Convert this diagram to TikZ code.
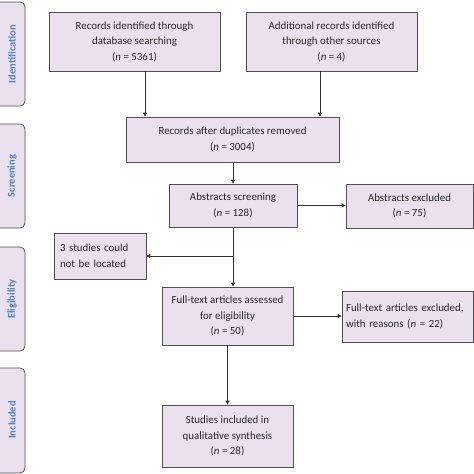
\documentclass[tikz,border=0pt]{standalone}
\usepackage{fontspec}
\setmainfont{Carlito}
\usetikzlibrary{arrows.meta}
\definecolor{boxfill}{HTML}{EBE1EE}
\definecolor{boxline}{HTML}{505050}
\definecolor{phasetext}{HTML}{4F81BD}
\begin{document}
\begin{tikzpicture}[x=1pt,y=-1pt,
    box/.style = {draw=boxline, fill=boxfill, line width=0.8pt, align=center,
      inner sep=0pt, text=black!85, font=\fontsize{10.9}{15.5}\selectfont},
    sidebox/.style = {box, align=left},
    phase/.style = {draw=boxline, fill=boxfill, line width=0.8pt, rounded corners=5pt},
    arr/.style = {line width=0.8pt, draw=black!80, -{Triangle[length=4pt,width=4pt]}}]
  \useasboundingbox (0,0) rectangle (474,474);

  % phases on the left
  \begin{scope}
    \clip (0,0) rectangle (474,474);
    \draw[phase] (-10,2) rectangle (25,106);
    \draw[phase] (-10,124) rectangle (25,228);
    \draw[phase] (-10,247) rectangle (25,351);
    \draw[phase] (-10,368) rectangle (25,473);
  \end{scope}
  \node[rotate=90, text=phasetext, font=\bfseries\fontsize{10.5}{12}\selectfont] (pid) at (12,54) {Identification};
  \node[rotate=90, text=phasetext, font=\bfseries\fontsize{10.5}{12}\selectfont] (psc) at (12,176) {Screening};
  \node[rotate=90, text=phasetext, font=\bfseries\fontsize{10.5}{12}\selectfont] (pel) at (12,299) {Eligibility};
  \node[rotate=90, text=phasetext, font=\bfseries\fontsize{10.5}{12}\selectfont] (pin) at (12,420) {Included};

  % boxes
  \node[box, minimum width=171pt, minimum height=59pt] (db) at (134.5,41.5)
    {Records identified through\\database searching\\(\textit{n} = 5361)};
  \node[box, minimum width=171pt, minimum height=59pt] (other) at (331.5,41.5)
    {Additional records identified\\through other sources\\(\textit{n} = 4)};
  \node[box, minimum width=213pt, minimum height=45pt] (dup) at (232.5,139.5)
    {Records after duplicates removed\\(\textit{n} = 3004)};
  \node[box, minimum width=128pt, minimum height=43pt] (abs) at (233,205.5)
    {Abstracts screening\\(\textit{n} = 128)};
  \node[box, minimum width=127pt, minimum height=44pt] (absx) at (409.5,206)
    {Abstracts excluded\\(\textit{n} = 75)};
  \node[sidebox, text width=80pt, minimum height=46pt, inner xsep=6pt] (lost) at (100,256)
    {3 studies could\\not be located};
  \node[sidebox, text width=123pt, minimum height=51pt, inner xsep=4pt] (fullx) at (407.5,316.5)
    {Full-text articles excluded,\\with reasons (\textit{n} = 22)};
  \node[box, minimum width=131pt, minimum height=58pt] (full) at (227.5,316)
    {Full-text articles assessed\\for eligibility\\(\textit{n} = 50)};
  \node[box, minimum width=131pt, minimum height=62pt] (incl) at (227.5,436)
    {Studies included in\\qualitative synthesis\\(\textit{n} = 28)};

  % connectors
  \draw[arr] ([xshift=10.5pt]db.south) -- ([xshift=10.5pt]db.south |- dup.north);
  \draw[arr] ([xshift=-11.5pt]other.south) -- ([xshift=-11.5pt]other.south |- dup.north);
  \draw[arr] (dup.south -| abs.north) -- (abs.north);
  \draw[arr] (abs.east) -- (abs.east -| absx.west);
  \draw[arr] (abs.south) -- (abs.south |- full.north);
  \draw[arr] (abs.south |- lost.east) -- (lost.east);
  \draw[arr] (full.east) -- (full.east -| fullx.west);
  \draw[arr] (full.south) -- (incl.north);

\end{tikzpicture}
\end{document}
